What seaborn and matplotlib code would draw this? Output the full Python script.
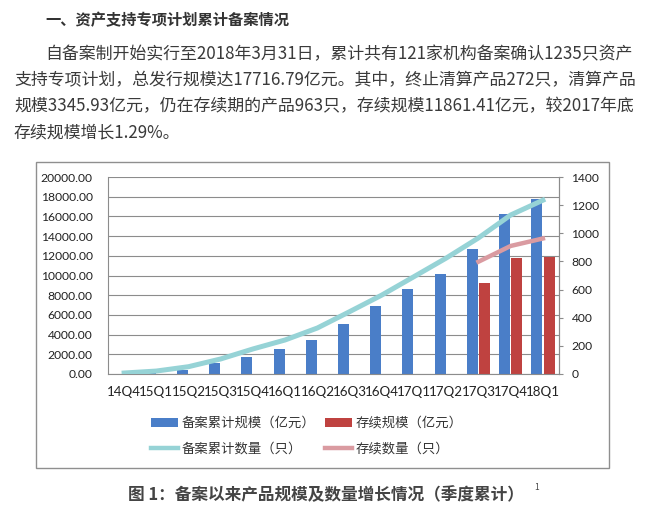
import numpy as np
import pandas as pd
import seaborn as sns
import matplotlib.pyplot as plt
from matplotlib.patches import Rectangle, Patch
from matplotlib.lines import Line2D
from matplotlib.ticker import FormatStrFormatter, MultipleLocator

plt.rcParams['font.family'] = ['Noto Sans CJK SC', 'DejaVu Sans']

W, H = 649, 519

# chart data
quarters = ['14Q4', '15Q1', '15Q2', '15Q3', '15Q4', '16Q1', '16Q2',
            '16Q3', '16Q4', '17Q1', '17Q2', '17Q3', '17Q4', '18Q1']
filed_scale = [20, 100, 400, 1080, 1760, 2500, 3450, 5050, 6900, 8600,
               10150, 12650, 16200, 17716.79]
active_scale = [np.nan] * 11 + [9200, 11740, 11861.41]
filed_count = [7, 21, 52, 107, 178, 242, 327, 443, 561, 692, 824, 967, 1130, 1235]
active_count = [np.nan] * 11 + [798, 910, 963]

bar_labels = ['备案累计规模（亿元）', '存续规模（亿元）']
line_labels = ['备案累计数量（只）', '存续数量（只）']

blue = '#4A7EC8'
red = '#BF4240'
cyan = '#96D3D6'
pink = '#DA9BA1'

title = '一、资产支持专项计划累计备案情况'
para = ['自备案制开始实行至2018年3月31日，累计共有121家机构备案确认1235只资产',
        '支持专项计划，总发行规模达17716.79亿元。其中，终止清算产品272只，清算产品',
        '规模3345.93亿元，仍在存续期的产品963只，存续规模11861.41亿元，较2017年底',
        '存续规模增长1.29%。']
caption = '图 1：备案以来产品规模及数量增长情况（季度累计）'


def fx(x):
    return x / W


def fy(y):
    return 1 - y / H


fig = plt.figure(figsize=(W / 100, H / 100), dpi=100)

# article text
fig.text(fx(45), fy(20), title, fontsize=11, fontweight='bold', color='#333333', va='center')
fig.text(fx(45), fy(54), para[0], fontsize=12.2, color='#3a3a3a', va='center')
for i, line in enumerate(para[1:]):
    fig.text(fx(14), fy(80 + 26 * i), line, fontsize=12.2, color='#3a3a3a', va='center')

# chart frame
fig.patches.append(Rectangle((fx(36), fy(468)), fx(609) - fx(36), fy(162) - fy(468),
                             transform=fig.transFigure, fill=False, edgecolor='#8f8f8f',
                             linewidth=1))

ax = fig.add_axes([fx(108), fy(374), fx(559) - fx(108), fy(177) - fy(374)])

bars = pd.DataFrame({
    'quarter': quarters * 2,
    'series': [bar_labels[0]] * len(quarters) + [bar_labels[1]] * len(quarters),
    'value': filed_scale + active_scale,
}).dropna()

sns.barplot(data=bars, x='quarter', y='value', hue='series', order=quarters,
            hue_order=bar_labels, palette=[blue, red], saturation=1,
            width=0.76, gap=0.1, errorbar=None, legend=False, ax=ax)

ax.set_ylim(0, 20000)
ax.yaxis.set_major_locator(MultipleLocator(2000))
ax.yaxis.set_major_formatter(FormatStrFormatter('%.2f'))
ax.yaxis.grid(True, color='#8c8c8c', linewidth=0.8)
ax.set_axisbelow(True)
ax.set_xlabel('')
ax.set_ylabel('')
for s in ['left', 'bottom', 'right']:
    ax.spines[s].set_color('#8c8c8c')
    ax.spines[s].set_linewidth(0.8)
ax.spines['top'].set_visible(False)
ax.tick_params(axis='y', length=0, pad=11, labelsize=8.7, labelcolor='#222222')
ax.tick_params(axis='x', length=0, pad=9, labelsize=9.6, labelcolor='#222222')
for t in ax.get_xticklabels() + ax.get_yticklabels():
    t.set_fontfamily('Lato')

ax2 = ax.twinx()
lines = pd.DataFrame({'pos': np.arange(len(quarters)), 'filed': filed_count,
                      'active': active_count})
sns.lineplot(data=lines, x='pos', y='filed', color=cyan, linewidth=3.6, ax=ax2)
sns.lineplot(data=lines.dropna(), x='pos', y='active', color=pink, linewidth=3.2, ax=ax2)
ax2.set_ylim(0, 1400)
ax2.yaxis.set_major_locator(MultipleLocator(200))
ax2.set_ylabel('')
ax2.set_xlabel('')
for s in ['left', 'top', 'bottom']:
    ax2.spines[s].set_visible(False)
ax2.spines['right'].set_color('#8c8c8c')
ax2.spines['right'].set_linewidth(0.8)
ax2.tick_params(axis='y', length=3, width=0.8, color='#8c8c8c', pad=6,
                labelsize=8.7, labelcolor='#222222')
for t in ax2.get_yticklabels():
    t.set_fontfamily('Lato')
ax.set_xlim(-0.5, len(quarters) - 0.5)

handles = [Patch(facecolor=blue), Line2D([], [], color=cyan, linewidth=3.2),
           Patch(facecolor=red), Line2D([], [], color=pink, linewidth=3.2)]
labels = [bar_labels[0], line_labels[0], bar_labels[1], line_labels[1]]
fig.legend(handles, labels, ncol=2, loc='upper left', bbox_to_anchor=(fx(151), fy(416)),
           frameon=False, borderpad=0, fontsize=9.6, handlelength=2.0, handleheight=0.6,
           handletextpad=0.3, columnspacing=0.75, labelspacing=0.85, labelcolor='#333333',
           borderaxespad=0)

fig.text(fx(128), fy(495), caption, fontsize=12.0, fontweight='bold', color='#444444',
         va='center')
fig.text(fx(534), fy(487), '1', fontsize=6, color='#444444', va='center')

fig.savefig('out.png', dpi=100)
